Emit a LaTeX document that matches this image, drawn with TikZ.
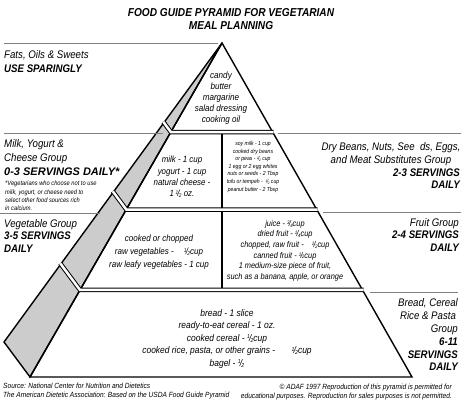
\documentclass[tikz,border=0pt]{standalone}
\usepackage{fontspec}
\setmainfont{Liberation Sans}[FakeStretch=0.88]
\newfontfamily\wideface{Liberation Sans}
\usepackage{graphicx}
\usepackage{tikz}
\usetikzlibrary{calc}
\definecolor{sidegray}{gray}{0.8}
\definecolor{rulegray}{gray}{0.5}
\newcommand{\frc}[2]{\raisebox{.45ex}{\scalebox{.6}{#1}}\kern-.08em/\kern-.08em\raisebox{-.2ex}{\scalebox{.6}{#2}}}

\begin{document}
\begin{tikzpicture}[
  x=1pt, y=-1pt,
  pyr/.style={line width=1.4pt, line join=miter},
  gap/.style={draw=black, double=white, double distance=2.5pt, line width=1pt, line join=miter, shorten <=-1pt, shorten >=-1pt},
  sepline/.style={draw=rulegray, line width=0.9pt},
  grp/.style={font=\itshape\fontsize{11}{#1}\selectfont, inner sep=0pt},
  grp/.default=13,
  food/.style 2 args={font=\itshape\fontsize{#1}{#2}\selectfont, align=center, inner sep=0pt, anchor=north},
  foot/.style={font=\itshape\fontsize{7.5}{8.6}\selectfont, inner sep=0pt}
]
\useasboundingbox (0,0) rectangle (461,400);

\coordinate (A) at (222,43);
\coordinate (FL) at (30,377);
\coordinate (FR) at (412,377);
\coordinate (RL) at (4,342);
\foreach \t [count=\i] in {0.2665,0.4985,0.7395} {
  \coordinate (r\i) at ($(A)!\t!(RL)$);
  \coordinate (l\i) at ($(A)!\t!(FL)$);
  \coordinate (f\i) at ($(A)!\t!(FR)$);
}

\draw[pyr, fill=sidegray] (A) -- (RL) -- (FL) -- cycle;
\draw[pyr] (A) -- (FL) -- (FR) -- cycle;
\draw[line width=1.2pt] (A |- l1) -- (A |- l3);
\foreach \i in {1,2,3} \draw[gap] (r\i) -- (l\i) -- (f\i);

\draw[sepline] (4,43) -- ([xshift=-4pt]A);
\draw[sepline] (4,133) -- (163,133);
\draw[sepline] (0,213) -- (100,213);
\draw[sepline] (278,133) -- (461,133);
\draw[sepline] (323,212) -- (461,212);
\draw[sepline] (370,292) -- (458,292);

\node[font=\bfseries\itshape\fontsize{11.5}{13.5}\selectfont, align=center, inner sep=0pt, anchor=north] (title) at (231,8) {FOOD GUIDE PYRAMID FOR VEGETARIAN\\MEAL PLANNING};

\node[grp=14, align=left, anchor=north west] (fats) at (4,50) {Fats, Oils \& Sweets\\\textbf{USE SPARINGLY}};
\node[grp=14, align=left, anchor=north west] (milk) at (4,139) {Milk, Yogurt \&\\Cheese Group\\{\wideface\bfseries 0-3 SERVINGS DAILY*}};
\node[font=\itshape\fontsize{6.5}{8.2}\selectfont, align=left, inner sep=0pt, anchor=north west] (note) at (5,181) {*Vegetarians who choose not to use\\milk, yogurt, or cheese need to\\select other food sources rich\\in calcium.};
\node[grp=12.5, align=left, anchor=north west] (veg) at (4,219) {Vegetable Group\\\textbf{3-5 SERVINGS}\\\textbf{DAILY}};

\node[grp, align=center, anchor=north] (beans) at (391,142) {Dry Beans, Nuts, See\ \ ds, Eggs,\\and Meat Substitutes Group};
\node[grp=12, align=right, anchor=north east] (beansN) at (460,169) {\textbf{2-3 SERVINGS}\\\textbf{DAILY}};
\node[grp=12.5, align=right, anchor=north east] (fruit) at (459,218) {Fruit Group\\\textbf{2-4 SERVINGS}\\\textbf{DAILY}};
\node[grp=13.5, align=center, anchor=north] (bread) at (428,298) {Bread, Cereal\\Rice \& Pasta};
\node[grp=12.7, align=right, anchor=north east] (breadN) at (458,325) {Group\\\textbf{6-11}\\\textbf{SERVINGS}\\\textbf{DAILY}};

\node[food={9.2}{11}] (fatsF) at (221,72) {candy\\butter\\margarine\\salad dressing\\cooking oil};
\node[food={9}{11.4}] (milkF) at (182,156) {milk - 1 cup\\yogurt - 1 cup\\natural cheese -\\1\,\frc12 oz.};
\node[food={5.8}{7.6}] (beansF) at (253,141) {soy milk - 1 cup\\cooked dry beans\\or peas - \frc12 cup\\1 egg or 2 egg whites\\nuts or seeds - 2 Tbsp\\tofu or tempeh - \ \frc12 cup\\peanut butter - 2 Tbsp};
\node[food={9.1}{12.8}] (vegF) at (159,235) {cooked or chopped\\raw vegetables - \hspace{8pt}\frc12cup\\raw leafy vegetables - 1 cup};
\node[food={8.4}{10.6}] (fruitF) at (285,220) {juice - \frc34cup\\dried fruit - \frc14cup\\chopped, raw fruit - \hspace{6pt}\frc12cup\\canned fruit - \frc12cup\\1 medium-size piece of fruit,\\such as a banana, apple, or orange};
\node[food={9.6}{12.5}] (breadF) at (227,309) {bread - 1 slice\\ready-to-eat cereal - 1 oz.\\cooked cereal - \frc12cup\\cooked rice, pasta, or other grains - \hspace{14pt}\frc12cup\\bagel - \frc12};

\node[foot, align=left, anchor=north west] (src) at (3,383) {Source: National Center for Nutrition and Dietetics\\The American Dietetic Association: Based on the USDA Food Guide Pyramid};
\node[foot, align=right, anchor=north east] (copy) at (452,384) {\textcopyright\ ADAF 1997 Reproduction of this pyramid is permitted for\\educational purposes. Reproduction for sales purposes is not permitted.};
\end{tikzpicture}
\end{document}
